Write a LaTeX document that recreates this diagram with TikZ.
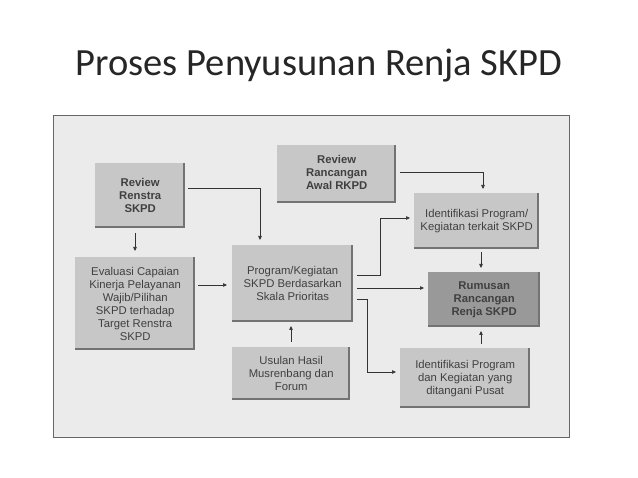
\documentclass[tikz,border=0pt]{standalone}
\usepackage{fontspec}
\setmainfont{Liberation Sans}
\newfontfamily\titlefont{Carlito}
\usetikzlibrary{arrows.meta}
\begin{document}
\begin{tikzpicture}[x=1pt,y=-1pt,
 bx/.style={draw=none,fill=black!22,align=center,font=\fontsize{11.3}{13}\selectfont,text=black!75,inner sep=0pt},
 shadowline/.style={line width=2pt,draw=black!55},
 conn/.style={draw=black!80,line width=0.6pt,-{Triangle[length=4pt,width=3.5pt]}}]
\useasboundingbox (0,0) rectangle (638,478);
\node[font=\titlefont\fontsize{38.5}{42}\selectfont,text=black!85] (title) at (319,66) {Proses Penyusunan Renja SKPD};
\node[draw=black!60,line width=1pt,fill=black!8,minimum width=516,minimum height=322,anchor=north west] (frame) at (53,115) {};
\newcommand\mybox[6]{%
 \node[bx,minimum width=#3-#2,minimum height=#5-#4,anchor=north west,#6] (#1) at (#2,#4) {};
 \draw[shadowline] (#2,#5-1) -- (#3-1,#5-1) -- (#3-1,#4);}
\mybox{rr}{95}{185}{163}{228}{}
\mybox{ev}{75}{195}{257}{350}{}
\mybox{pk}{232}{353}{245}{322}{}
\mybox{us}{232}{350}{347}{400}{}
\mybox{ra}{277}{396}{145}{203}{}
\mybox{id}{414}{539}{193}{249}{}
\mybox{ru}{428}{540}{272}{327}{fill=black!40}
\mybox{pu}{400}{530}{348}{408}{}
\node[bx,fill=none,font=\bfseries\fontsize{11.3}{13}\selectfont] at (rr) {Review\\Renstra\\SKPD};
\node[bx,fill=none] at (ev) {Evaluasi Capaian\\Kinerja Pelayanan\\Wajib/Pilihan\\SKPD terhadap\\Target Renstra\\SKPD};
\node[bx,fill=none] at (pk) {Program/Kegiatan\\SKPD Berdasarkan\\Skala Prioritas};
\node[bx,fill=none] at (us) {Usulan Hasil\\Musrenbang dan\\Forum};
\node[bx,fill=none,font=\bfseries\fontsize{11.3}{13}\selectfont] at ([yshift=2]ra) {Review\\Rancangan\\Awal RKPD};
\node[bx,fill=none] at (id) {Identifikasi Program/\\Kegiatan terkait SKPD};
\node[bx,fill=none,font=\bfseries\fontsize{11.3}{13}\selectfont] at (ru) {Rumusan\\Rancangan\\Renja SKPD};
\node[bx,fill=none] at (pu) {Identifikasi Program\\dan Kegiatan yang\\ditangani Pusat};
\coordinate (a1) at (135,233);
\draw[conn] (a1) -- (135,251);
\draw[conn] (188,188) -- (260,188) -- (260,240);
\draw[conn] (198,285) -- (227,285);
\draw[conn] (291,342) -- (291,326);
\draw[conn] (400,172) -- (483,172) -- (483,189);
\draw[conn] (357,275) -- (380,275) -- (380,218) -- (410,218);
\draw[conn] (357,288) -- (424,288);
\draw[conn] (357,299) -- (367,299) -- (367,372) -- (396,372);
\draw[conn] (481,252) -- (481,268);
\draw[conn] (481,344) -- (481,331);
\end{tikzpicture}
\end{document}
